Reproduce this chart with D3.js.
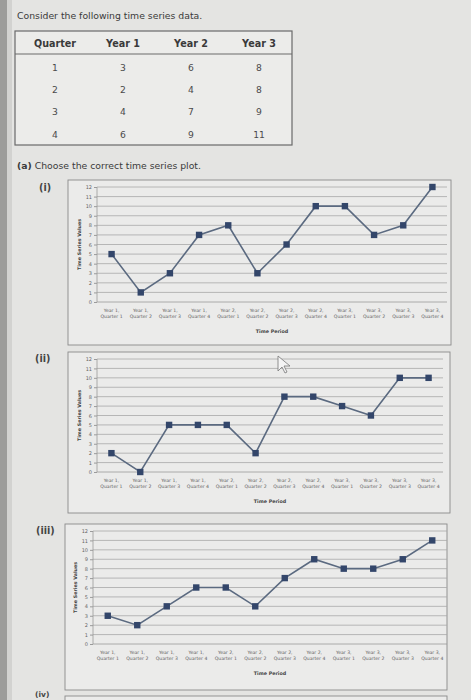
<!DOCTYPE html>
<html><head><meta charset="utf-8">
<script src="https://cdn.jsdelivr.net/npm/d3@7"></script>
<style>
html,body{margin:0;padding:0;background:#e3e3e1;}
svg{display:block;}
</style></head>
<body>
<svg id="c" width="471" height="700"></svg>
<script>
// ---- data ----
const quarters = ["1","2","3","4"];
const year1 = [3,2,4,6];
const year2 = [6,4,7,9];
const year3 = [8,8,9,11];
const tableHeaders = ["Quarter","Year 1","Year 2","Year 3"];

const periods = [
  ["Year 1,","Quarter 1"],["Year 1,","Quarter 2"],["Year 1,","Quarter 3"],["Year 1,","Quarter 4"],
  ["Year 2,","Quarter 1"],["Year 2,","Quarter 2"],["Year 2,","Quarter 3"],["Year 2,","Quarter 4"],
  ["Year 3,","Quarter 1"],["Year 3,","Quarter 2"],["Year 3,","Quarter 3"],["Year 3,","Quarter 4"]
];
const seriesI   = [5,1,3,7,8,3,6,10,10,7,8,12];
const seriesII  = [2,0,5,5,5,2,8,8,7,6,10,10];
const seriesIII = [3,2,4,6,6,4,7,9,8,8,9,11];
const yTicks = [0,1,2,3,4,5,6,7,8,9,10,11,12];
const optionLabels = ["(i)","(ii)","(iii)","(iv)"];

const svg = d3.select("#c");
const F = "'DejaVu Sans', Verdana, sans-serif";

// page background & left edge
svg.append("rect").attr("x",0).attr("y",0).attr("width",471).attr("height",700).attr("fill","#e4e4e2");
svg.append("rect").attr("x",0).attr("y",0).attr("width",7).attr("height",700).attr("fill","#9c9c9a");
svg.append("rect").attr("x",7).attr("y",0).attr("width",5).attr("height",700).attr("fill","#d2d2d0");

svg.append("text").attr("x",17).attr("y",19).attr("font-family",F).attr("font-size",9.3)
  .attr("fill","#3a3a3a").text("Consider the following time series data.");

// ---- table ----
const tbl = {x0:15,x1:292,y0:31,yh:54,y1:145};
svg.append("rect").attr("x",tbl.x0).attr("y",tbl.y0).attr("width",tbl.x1-tbl.x0).attr("height",tbl.y1-tbl.y0)
  .attr("fill","#ececea").attr("stroke","#6a6a6a").attr("stroke-width",1.2);
svg.append("line").attr("x1",tbl.x0).attr("x2",tbl.x1).attr("y1",tbl.yh).attr("y2",tbl.yh)
  .attr("stroke","#6a6a6a").attr("stroke-width",1.2);
const colX = d3.scalePoint().domain(tableHeaders).range([55,259]);
const rowY = d3.scalePoint().domain(quarters).range([67,134]);
svg.selectAll(".th").data(tableHeaders).join("text")
  .attr("x",d=>colX(d)).attr("y",47).attr("text-anchor","middle")
  .attr("font-family",F).attr("font-size",9.6).attr("font-weight","bold").attr("fill","#3a3a3a").text(d=>d);
const cols = [quarters, year1, year2, year3];
cols.forEach((col,ci)=>{
  svg.selectAll(".td"+ci).data(col).join("text")
    .attr("x",colX(tableHeaders[ci])).attr("y",(d,i)=>rowY(quarters[i])+3.5).attr("text-anchor","middle")
    .attr("font-family",F).attr("font-size",9.2).attr("fill","#4a4a4a").text(d=>d);
});

svg.append("text").attr("x",17).attr("y",169).attr("font-family",F).attr("font-size",9.3)
  .attr("fill","#3a3a3a").html("<tspan font-weight='bold'>(a)</tspan> Choose the correct time series plot.");

// ---- charts ----
function chart(cfg, data){
  const g = svg.append("g");
  g.append("rect").attr("x",cfg.bx0).attr("y",cfg.by0).attr("width",cfg.bx1-cfg.bx0).attr("height",cfg.by1-cfg.by0)
    .attr("fill","#ebebea").attr("stroke","#8a8a8a").attr("stroke-width",0.9);
  const x = d3.scalePoint().domain(d3.range(data.length)).range([cfg.px0,cfg.px1]).padding(0.5);
  const y = d3.scaleLinear().domain([0,12]).range([cfg.y0,cfg.y12]);
  // grid
  g.selectAll(".gl").data(yTicks).join("line")
    .attr("x1",cfg.px0).attr("x2",cfg.px1).attr("y1",d=>y(d)).attr("y2",d=>y(d))
    .attr("stroke",d=>d===0?"#9a9a9a":"#a8a8a8").attr("stroke-width",0.8);
  g.append("line").attr("x1",cfg.px0).attr("x2",cfg.px0).attr("y1",y(0)).attr("y2",y(12))
    .attr("stroke","#9a9a9a").attr("stroke-width",0.8);
  const ax = d3.axisLeft(y).tickValues(yTicks).tickSize(3).tickPadding(2);
  const axg = g.append("g").attr("transform",`translate(${cfg.px0},0)`).call(ax);
  axg.select(".domain").remove();
  axg.selectAll("line").attr("stroke","#9a9a9a");
  axg.selectAll("text").attr("font-family",F).attr("font-size",5).attr("fill","#666");
  // x labels
  const xl = g.selectAll(".xl").data(periods).join("text")
    .attr("x",(d,i)=>x(i)).attr("y",cfg.y0+10).attr("text-anchor","middle")
    .attr("font-family",F).attr("font-size",4.6).attr("fill","#606060");
  xl.append("tspan").attr("x",(d,i)=>x(i)).attr("dy",0).text(d=>d[0]);
  xl.append("tspan").attr("x",(d,i)=>x(i)).attr("dy",5.5).text(d=>d[1]);
  g.append("text").attr("x",(cfg.px0+cfg.px1)/2).attr("y",cfg.y0+31).attr("text-anchor","middle")
    .attr("font-family",F).attr("font-size",4.8).attr("font-weight","bold").attr("fill","#444").text("Time Period");
  g.append("text").attr("transform",`translate(${cfg.px0-16},${(y(0)+y(12))/2}) rotate(-90)`)
    .attr("text-anchor","middle").attr("font-family",F).attr("font-size",4.8).attr("font-weight","bold")
    .attr("fill","#444").text("Time Series Values");
  // line + markers
  g.append("path").datum(data).attr("fill","none").attr("stroke","#5b6a80").attr("stroke-width",1.6)
    .attr("d",d3.line().x((d,i)=>x(i)).y(d=>y(d)));
  g.selectAll(".m").data(data).join("rect")
    .attr("x",(d,i)=>x(i)-3.2).attr("y",d=>y(d)-3.2).attr("width",6.4).attr("height",6.4)
    .attr("fill","#33466a");
  // option label
  svg.append("text").attr("x",cfg.lx).attr("y",cfg.ly).attr("font-family",F).attr("font-size",9.6)
    .attr("font-weight","bold").attr("fill","#444").text(cfg.label);
}

chart({bx0:68,bx1:451,by0:180,by1:345,px0:97,px1:447,y0:302,y12:187,lx:39,ly:191,label:optionLabels[0]}, seriesI);
chart({bx0:68,bx1:450,by0:352,by1:513,px0:97,px1:443,y0:472,y12:359,lx:35,ly:362,label:optionLabels[1]}, seriesII);
chart({bx0:65,bx1:447,by0:524,by1:690,px0:93,px1:447,y0:644,y12:531,lx:36,ly:534,label:optionLabels[2]}, seriesIII);

// next option (partially visible)
svg.append("rect").attr("x",65).attr("y",696).attr("width",382).attr("height",20)
  .attr("fill","#ebebea").attr("stroke","#8a8a8a").attr("stroke-width",0.9);
svg.append("text").attr("x",35).attr("y",697).attr("font-family",F).attr("font-size",7.5)
  .attr("font-weight","bold").attr("fill","#444").text(optionLabels[3]);

// mouse cursor
svg.append("path").attr("d","M278,356 L278,371 L282,367 L285,373 L287,372 L284,366 L290,366 Z")
  .attr("fill","#f4f4f4").attr("stroke","#777").attr("stroke-width",0.8);
</script>
</body></html>
